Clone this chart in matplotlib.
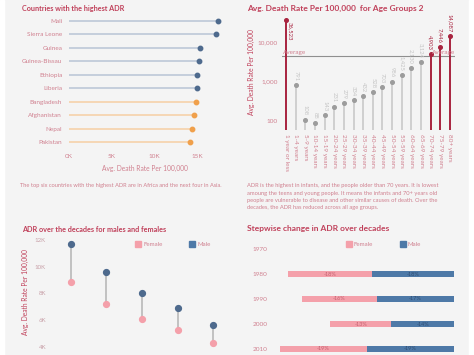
import matplotlib
matplotlib.use("Agg")
import matplotlib.pyplot as plt
import matplotlib.patches as mpatches
import numpy as np

plt.rcParams['font.family'] = ['Lato', 'DejaVu Sans']

# ---- datos ----
paises = ["Mali", "Sierra Leone", "Guinea", "Guinea-Bissau", "Ethiopia", "Liberia",
          "Bangladesh", "Afghanistan", "Nepal", "Pakistan"]
adr_paises = [17.5, 17.3, 15.35, 15.3, 15.05, 15.0, 14.9, 14.7, 14.4, 14.2]  # miles
continente = ["Africa"] * 6 + ["Asia"] * 4

edades = ["1 year or less", "1-4 years", "5-9 years", "10-14 years", "15-19 years",
          "20-24 years", "25-29 years", "30-34 years", "35-39 years", "40-44 years",
          "45-49 years", "50-54 years", "55-59 years", "60-64 years", "65-69 years",
          "70-74 years", "75-79 years", "80+ years"]
adr_edades = [36523, 791, 108, 88, 143, 231, 279, 334, 432, 528, 703, 986,
              1425, 2130, 3124, 4903, 7446, 14087]
destacados = ["1 year or less", "70-74 years", "75-79 years", "80+ years"]
promedio = 4400

decadas = ["1970", "1980", "1990", "2000", "2010"]
adr_hombres = [11.7, 9.62, 8.0, 6.92, 5.62]  # miles
adr_mujeres = [8.83, 7.22, 6.05, 5.25, 4.25]

cambio_mujeres = [None, -18.3, -16.2, -13.2, -19.0]
cambio_hombres = [None, -17.8, -16.8, -13.7, -18.9]
etiq_mujeres = ["", "-18%", "-16%", "-13%", "-19%"]
etiq_hombres = ["", "-18%", "-17%", "-14%", "-19%"]

# ---- colores ----
fondo = "#f4f4f4"
titulo_col = "#c0405a"
rosa = "#d0808f"
azul = "#4e6a8d"
azul_claro = "#b9c5d5"
naranja = "#f0a04b"
naranja_claro = "#f6cfa4"
rojo = "#a8233f"
gris = "#c9c9c9"
gris_osc = "#9c9c9c"
mujer = "#f4a0aa"
hombre = "#4e79a7"

W, H = 474, 355
fig = plt.figure(figsize=(W / 100, H / 100), dpi=100, facecolor=fondo)


def ejes(x0, y0, x1, y1):
    # pixeles -> fraccion de figura
    ax = fig.add_axes([x0 / W, 1 - y1 / H, (x1 - x0) / W, (y1 - y0) / H])
    ax.set_facecolor("none")
    for s in ax.spines.values():
        s.set_visible(False)
    return ax


def texto(x, y, s, **kw):
    fig.text(x / W, 1 - y / H, s, **kw)


# franjas blancas de los bordes
fig.add_artist(mpatches.Rectangle((0, 0), 4 / W, 1, transform=fig.transFigure, color="white", zorder=0))
fig.add_artist(mpatches.Rectangle((469 / W, 0), 5 / W, 1, transform=fig.transFigure, color="white", zorder=0))

# ---- paises ----
ax1 = ejes(65, 11.6, 225, 151.4)
y = np.arange(len(paises))
for i, (p, v, c) in enumerate(zip(paises, adr_paises, continente)):
    col, colc = (azul, azul_claro) if c == "Africa" else (naranja, naranja_claro)
    ax1.plot([0, v], [i, i], color=colc, lw=1.1, solid_capstyle="butt")
    ax1.plot(v, i, "o", color=col, ms=3.2)
ax1.set_yticks(y)
ax1.set_yticklabels(paises)
ax1.set_ylim(len(paises) - 0.3, -0.7)
ax1.set_xlim(-0.47, 18.3)
ax1.set_xticks([0, 5, 10, 15])
ax1.set_xticklabels(["0K", "5K", "10K", "15K"])
ax1.tick_params(length=0, labelsize=4.6, colors=rosa, pad=2)
ax1.set_xlabel("Avg. Death Rate Per 100,000", fontsize=4.8, color=rosa, labelpad=4)
texto(22, 8, "Countries with the highest ADR", fontsize=5.2, color=titulo_col,
      fontweight="bold", va="center")

# ---- edades ----
ax2 = ejes(282, 15, 455, 130)
ax2.set_yscale("log")
ax2.set_ylim(59, 48000)
ax2.set_xlim(-0.42, 17.52)
for i, (e, v) in enumerate(zip(edades, adr_edades)):
    dest = e in destacados
    col_l = rojo if dest else gris
    col_m = rojo if dest else gris_osc
    ax2.plot([i, i], [1, v], color=col_l, lw=1.4 if dest else 1.2, solid_capstyle="butt")
    ax2.plot(i, v, "o", color=col_m, ms=2.6)
    lab = f"{v:,}"
    if i == 0:
        ax2.annotate(lab, (i, v), xytext=(1.2, -2), textcoords="offset points", rotation=-90,
                     ha="left", va="top", fontsize=4.2, color=rojo)
    else:
        ax2.annotate(lab, (i, v), xytext=(0, 3), textcoords="offset points", rotation=-90,
                     ha="center", va="bottom", fontsize=4.2, color=rojo if dest else "#c4c4c4")
ax2.axhline(promedio, color="#8f8f8f", lw=0.8, zorder=0)
ax2.text(-0.35, promedio * 1.08, "Average", fontsize=4.6, color=rosa, va="bottom", ha="left")
ax2.text(17.5, promedio * 1.08, "Average", fontsize=4.6, color=rosa, va="bottom", ha="right")
ax2.set_xticks(range(len(edades)))
ax2.set_xticklabels(edades, rotation=-90, va="top", ha="center")
ax2.set_yticks([100, 1000, 10000])
ax2.set_yticklabels(["100", "1,000", "10,000"])
ax2.minorticks_off()
ax2.tick_params(length=0, labelsize=4.6, colors=rosa, pad=3)
ax2.set_ylabel("Avg. Death Rate Per 100,000", fontsize=4.8, color=titulo_col, labelpad=2)
texto(247, 8, "Avg. Death Rate Per 100,000  for Age Groups 2", fontsize=6.0,
      color=titulo_col, fontweight="bold", va="center")

# ---- textos del medio ----
texto(20, 186, "The top six countries with the highest ADR are in Africa and the next four in Asia.",
      fontsize=4.1, color=rosa, va="center")
texto(247, 183.5,
      "ADR is the highest in infants, and the people older than 70 years. It is lowest\n"
      "amoung the teens and young people. It means the infants and 70+ years old\n"
      "people are vulnerable to disease and other similar causes of death. Over the\n"
      "decades, the ADR has reduced across all age groups.",
      fontsize=4.15, color=rosa, va="top", linespacing=1.55)

# ---- decadas ----
ax3 = ejes(53, 233, 231, 352)
xd = np.arange(len(decadas))
for i in xd:
    ax3.plot([i, i], [adr_mujeres[i], adr_hombres[i]], color="#b3b3b3", lw=1.1, zorder=1)
ax3.plot(xd, adr_hombres, "o", color=azul, ms=4.2, zorder=2)
ax3.plot(xd, adr_mujeres, "o", color=mujer, ms=4.2, zorder=2)
ax3.set_xlim(-0.5, 4.5)
ax3.set_ylim(3.6, 12.53)
ax3.set_xticks([])
ax3.set_yticks([4, 6, 8, 10, 12])
ax3.set_yticklabels(["4K", "6K", "8K", "10K", "12K"])
ax3.tick_params(length=0, labelsize=4.4, colors="#c8a0a8", pad=5)
ax3.set_ylabel("Avg. Death Rate Per 100,000", fontsize=4.8, color=titulo_col, labelpad=4)
texto(22, 229, "ADR over the decades for males and females", fontsize=5.2,
      color=titulo_col, fontweight="bold", va="center")


def leyenda(x, y, col, s):
    fig.add_artist(mpatches.Rectangle(((x - 3) / W, 1 - (y + 3) / H), 6 / W, 6 / H,
                                      transform=fig.transFigure, color=col))
    texto(x + 5, y, s, fontsize=4.4, color=rosa, va="center")


leyenda(138, 244, mujer, "Female")
leyenda(192, 244, hombre, "Male")

# ---- cambio escalonado ----
ax4 = ejes(270, 236, 458, 355)
yd = np.arange(len(decadas))
for i in yd:
    if cambio_hombres[i] is None:
        continue
    m, f = cambio_hombres[i], cambio_mujeres[i]
    ax4.barh(i, m, left=0, height=0.27, color=hombre)
    ax4.barh(i, f, left=m, height=0.27, color=mujer)
    ax4.text(m / 2, i, etiq_hombres[i], ha="center", va="center", fontsize=4.0, color="#2e4c72")
    ax4.text(m + f / 2, i, etiq_mujeres[i], ha="center", va="center", fontsize=4.0, color="#c4606f")
ax4.set_xlim(-40, 0.87)
ax4.set_ylim(4.24, -0.52)
ax4.set_xticks([])
ax4.set_yticks(yd)
ax4.set_yticklabels(decadas)
ax4.tick_params(length=0, labelsize=4.6, colors=rosa, pad=2)
texto(247, 229, "Stepwise change in ADR over decades", fontsize=6.0,
      color=titulo_col, fontweight="bold", va="center")
leyenda(349, 244, mujer, "Female")
leyenda(403, 244, hombre, "Male")

fig.savefig("out.png", dpi=100, facecolor=fondo)
